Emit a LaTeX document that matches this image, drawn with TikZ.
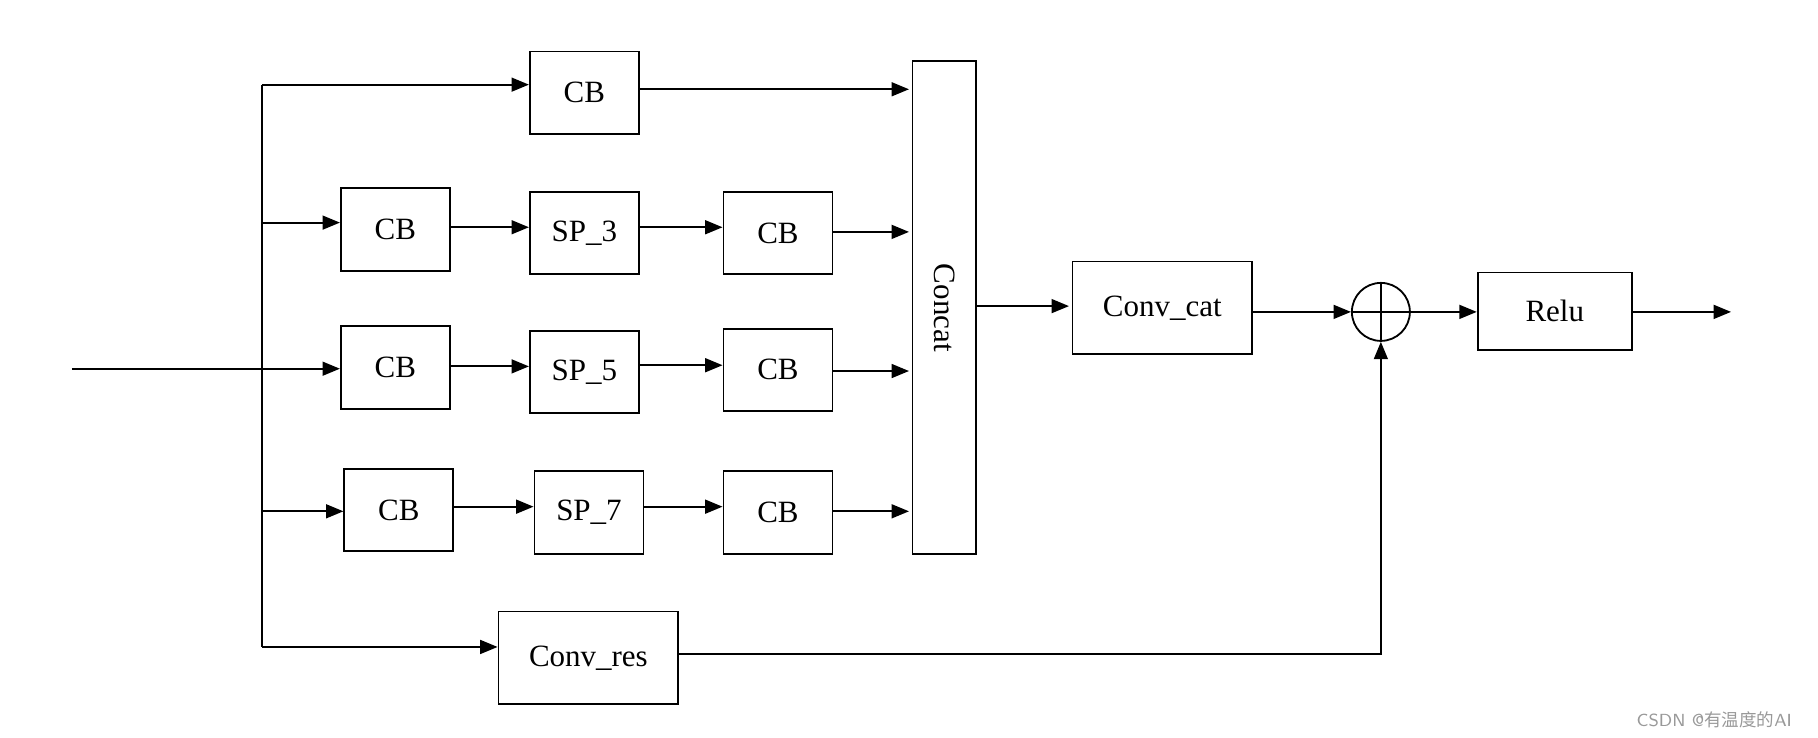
\documentclass[tikz,border=0pt]{standalone}
\usepackage{fontspec}
\setmainfont{Liberation Serif}
\newfontfamily\cjk{Noto Sans CJK SC}
\usetikzlibrary{arrows.meta}
\begin{document}
\begin{tikzpicture}[x=0.01cm,y=-0.01cm,
  font=\fontsize{7.6}{9}\selectfont, line width=0.45pt,
  box/.style={draw,minimum width=0.94cm,minimum height=0.71cm,inner sep=0pt},
  wbox/.style={draw,minimum width=1.55cm,minimum height=0.8cm,inner sep=0pt},
  arr/.style={-{Triangle[length=0.15cm,width=0.12cm]}}]
\useasboundingbox (0,0) rectangle (1568,636);
\node[box] (cb0) at (504,80) {CB};
\node[box] (cb21) at (341,198) {CB};
\node[box] (sp3) at (504,201) {SP\_3};
\node[box] (cb22) at (671,201) {CB};
\node[box] (cb31) at (341,317) {CB};
\node[box] (sp5) at (504,321) {SP\_5};
\node[box] (cb32) at (671,319) {CB};
\node[box] (cb41) at (344,440) {CB};
\node[box] (sp7) at (508,442) {SP\_7};
\node[box] (cb42) at (671,442) {CB};
\node[draw,minimum width=0.55cm,minimum height=4.25cm,inner sep=0pt] (cat) at (814.5,265.5) {};
\node[rotate=-90] at (cat.center) {Concat};
\node[wbox] (cc) at (1002.5,265.5) {Conv\_cat};
\node[draw,circle,minimum size=0.5cm,inner sep=0pt] (add) at (1191,269) {};
\draw (add.north) -- (add.south) (add.west) -- (add.east);
\node[draw,minimum width=1.33cm,minimum height=0.67cm,inner sep=0pt] (relu) at (1341,268.5) {Relu};
\node[wbox] (res) at (507.5,567.5) {Conv\_res};
\coordinate (in) at (62,318);
\coordinate (out) at (1493,269);
\coordinate (btop) at (226,73);
\coordinate (bbot) at (226,558);
\coordinate (corner) at (1191,564);
\draw (in) -- (226,318);
\draw (btop) -- (bbot);
\draw[arr] (btop) -- (btop -| cb0.west);
\draw[arr] (226,192) -- (226,192 -| cb21.west);
\draw[arr] (226,318) -- (226,318 -| cb31.west);
\draw[arr] (226,441) -- (226,441 -| cb41.west);
\draw[arr] (bbot) -- (bbot -| res.west);
\draw[arr] (cb0.east |- 0,77) -- (784,77);
\draw[arr] (cb21.east |- 0,196) -- (sp3.west |- 0,196);
\draw[arr] (sp3.east |- 0,196) -- (cb22.west |- 0,196);
\draw[arr] (cb22.east |- 0,200) -- (784,200);
\draw[arr] (cb31.east |- 0,316) -- (sp5.west |- 0,316);
\draw[arr] (sp5.east |- 0,315) -- (cb32.west |- 0,315);
\draw[arr] (cb32.east |- 0,320) -- (784,320);
\draw[arr] (cb41.east |- 0,437) -- (sp7.west |- 0,437);
\draw[arr] (sp7.east |- 0,437) -- (cb42.west |- 0,437);
\draw[arr] (cb42.east |- 0,441) -- (784,441);
\draw[arr] (cat.east |- 0,264) -- (922,264);
\draw[arr] (cc.east |- add.west) -- (add.west);
\draw[arr] (add.east) -- (relu.west |- add.east);
\draw[arr] (relu.east |- out) -- (out);
\draw[arr] (res.east |- corner) -- (corner) -- (add.south);
\node[anchor=east,text=black!40,font=\fontsize{4.3}{5}\selectfont\sffamily] (wm) at (1558,621) {CSDN @{\cjk 有温度的}AI};
\end{tikzpicture}
\end{document}
